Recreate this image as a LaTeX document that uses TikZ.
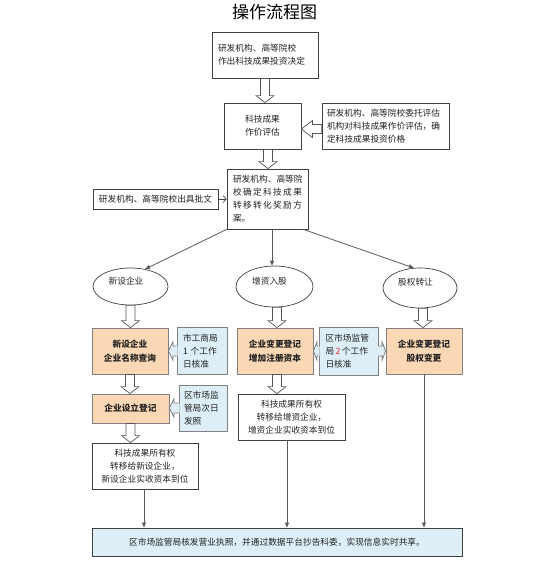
\documentclass[tikz,border=0pt]{standalone}
\usepackage{fontspec}
\setmainfont{Noto Sans CJK SC}
\usetikzlibrary{shapes.geometric,arrows.meta,calc}
\definecolor{org}{HTML}{FAD8B6}
\definecolor{lblue}{HTML}{DDEEF6}
\definecolor{bord}{HTML}{404040}
\definecolor{gbord}{HTML}{808080}
\definecolor{txt}{HTML}{222222}
\definecolor{lcol}{HTML}{5A5A5A}
\definecolor{acol}{HTML}{555555}
\definecolor{red2}{HTML}{E03030}
\newcommand\hdown[2]{\draw[harrow] let \p1=(#1), \p2=(#2) in (\x1-4.5pt,\y1) -- (\x1+4.5pt,\y1) -- (\x1+4.5pt,\y2+7pt) -- (\x1+9pt,\y2+7pt) -- (\x1,\y2) -- (\x1-9pt,\y2+7pt) -- (\x1-4.5pt,\y2+7pt) -- cycle;}
\newcommand\hleft[2]{\draw[harrow] let \p1=(#1), \p2=(#2) in (\x1,\y1-4.5pt) -- (\x2+11pt,\y1-4.5pt) -- (\x2+11pt,\y1-8.5pt) -- (\x2,\y1) -- (\x2+11pt,\y1+8.5pt) -- (\x2+11pt,\y1+4.5pt) -- (\x1,\y1+4.5pt) -- cycle;}
\newcommand\notch[4]{%
 \fill[lblue] let \p1=(#1), \p2=(#2) in (\x1+#4,\y1-5pt) -- (\x2+#3,\y1-5pt) -- (\x2+#3,\y1-9pt) -- (\x2,\y1) -- (\x2+#3,\y1+9pt) -- (\x2+#3,\y1+5pt) -- (\x1+#4,\y1+5pt) -- cycle;
 \draw[gbord, line width=0.8pt, line join=miter] let \p1=(#1), \p2=(#2) in (\x1,\y1-5pt) -- (\x2+#3,\y1-5pt) -- (\x2+#3,\y1-9pt) -- (\x2,\y1) -- (\x2+#3,\y1+9pt) -- (\x2+#3,\y1+5pt) -- (\x1,\y1+5pt);}
\begin{document}
\begin{tikzpicture}[x=1pt,y=-1pt,
  every node/.style={text=txt, font=\fontsize{8.7}{13}\selectfont},
  wbox/.style={draw=bord, line width=0.8pt, fill=white, inner sep=0pt},
  obox/.style={draw=gbord, line width=0.8pt, fill=org, inner sep=0pt, font=\fontsize{8.7}{14}\selectfont\bfseries, align=center},
  bbox/.style={draw=gbord, line width=0.8pt, fill=lblue, inner sep=0pt, align=left},
  oval/.style={ellipse, draw=bord, line width=0.7pt, inner sep=0pt, text height=4pt, text depth=8.5pt},
  link/.style={draw=lcol, line width=0.8pt, -{Triangle[length=5pt,width=4pt]}},
  harrow/.style={draw=acol, line width=0.7pt, fill=white, line join=miter},
]
\useasboundingbox[fill=white] (0,0) rectangle (547,566);

\node[font=\fontsize{17}{17}\selectfont, text=black] (title) at (274.5,12) {操作流程图};

\node[wbox, minimum width=106pt, minimum height=46pt, text width=94pt, align=left] (b1) at (265,55)
  {研发机构、高等院校\\作出科技成果投资决定};
\node[wbox, minimum width=77pt, minimum height=46pt, align=center] (b2) at (262.5,126)
  {科技成果\\作价评估};
\node[wbox, minimum width=127pt, minimum height=46pt, text width=117pt, align=left] (rb) at (385.5,126)
  {研发机构、高等院校委托评估\\机构对科技成果作价评估，确\\定科技成果投资价格};
\node[wbox, minimum width=81pt, minimum height=60pt, text width=69pt, align=left] (b3) at (267.5,199)
  {研发机构、高等院\\
   \makebox[69pt][s]{校\hfil 确\hfil 定\hfil 科\hfil 技\hfil 成\hfil 果}\\
   \makebox[69pt][s]{转\hfil 移\hfil 转\hfil 化\hfil 奖\hfil 励\hfil 方}\\
   案。};
\node[wbox, minimum width=125pt, minimum height=20pt] (lb) at (155.5,199)
  {研发机构、高等院校出具批文};

\node[oval, minimum width=75pt, minimum height=37pt] (e1) at (130.5,286.5) {新设企业\kern9pt};
\node[oval, minimum width=77pt, minimum height=41pt] (e2) at (274.5,286.5) {增资入股\kern10pt};
\node[oval, minimum width=74pt, minimum height=40pt] (e3) at (420,288) {股权转让\kern9pt};

\node[obox, minimum width=76pt, minimum height=46pt] (o1) at (130,351) {新设企业\\企业名称查询};
\node[bbox, minimum width=50pt, minimum height=47pt, text width=38pt] (c1) at (202,351)
  {市工商局\\\mbox{1 个工作}\\日核准};
\node[obox, minimum width=77pt, minimum height=29pt] (o2) at (130.5,408.5) {企业设立登记};
\node[bbox, minimum width=48pt, minimum height=46pt, text width=38pt] (c2) at (203,408)
  {区市场监\\管局次日\\发照};
\node[wbox, minimum width=106pt, minimum height=46pt, align=center] (w1) at (145,466)
  {科技成果所有权\\转移给新设企业，\\新设企业实收资本到位};

\node[obox, minimum width=76pt, minimum height=46pt] (o3) at (275,351) {企业变更登记\\增加注册资本};
\node[bbox, minimum width=59pt, minimum height=48pt, text width=46pt] (c3) at (348.5,351)
  {区市场监管\\\mbox{局\,\textcolor{red2}{2}\,个工作}\\日核准};
\node[obox, minimum width=76pt, minimum height=46pt] (o4) at (424,351) {企业变更登记\\股权变更};
\node[wbox, minimum width=107pt, minimum height=46pt, align=center] (w2) at (291.5,417)
  {科技成果所有权\\转移给增资企业，\\增资企业实收资本到位};

\node[wbox, fill=lblue, line width=1pt, minimum width=370pt, minimum height=28pt] (fin) at (277,542)
  {区市场监管局核发营业执照，并通过数据平台抄告科委，实现信息实时共享。};

% hollow arrows
\hdown{b1.south}{b2.north}
\hdown{[xshift=5.5pt]b2.south}{b3.north}
\hleft{[yshift=-3pt]rb.west}{b2.east}
\hdown{e1.south}{o1.north}
\hdown{[xshift=2.5pt]e2.south}{o3.north}
\hdown{[xshift=3pt]e3.south}{o4.north}
\hdown{o1.south}{o2.north}
\hdown{o2.south}{w1.north}
\hdown{[xshift=2pt]o3.south}{w2.north}

% callout notches
\notch{c1.west}{o1.east}{4.5pt}{0.9pt}
\notch{c2.west}{o2.east}{4.5pt}{0.9pt}
\notch{c3.west}{o3.east}{3.5pt}{0.9pt}
\notch{c3.east}{o4.west}{-3.5pt}{-0.9pt}

% connectors
\draw[draw=bord, line width=0.7pt, -{Straight Barb[length=3pt,width=7pt]}] (lb.east) -- (b3.west);
\draw[link] (b3.south west) -- (e1.50);
\draw[link] ([xshift=4.5pt]b3.south) -- ([xshift=4.5pt]b3.south |- e2.north);
\draw[link] ([xshift=-5pt]b3.south east) -- (e3.107);
\draw[link] ([xshift=-1pt]w1.south) -- ([xshift=-1pt]w1.south |- fin.north);
\draw[link] ([xshift=-4.5pt]w2.south) -- ([xshift=-4.5pt]w2.south |- fin.north);
\draw[link] (o4.south) -- (o4.south |- fin.north);
\end{tikzpicture}
\end{document}
